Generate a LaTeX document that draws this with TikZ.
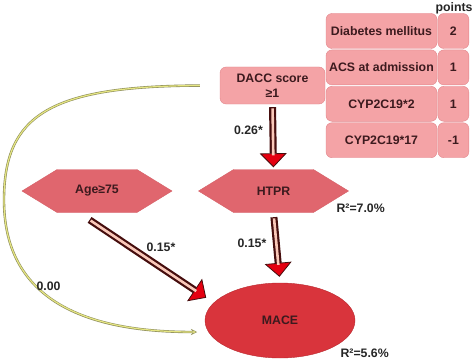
\documentclass[tikz,border=0pt]{standalone}
\usepackage{fontspec}
\setmainfont{Liberation Sans}
\usetikzlibrary{arrows.meta,positioning,shapes.geometric,shapes.symbols}

\definecolor{boxpink}{RGB}{244,163,166}
\definecolor{boxedge}{RGB}{226,134,140}
\definecolor{hexred}{RGB}{224,102,110}
\definecolor{macered}{RGB}{217,52,60}
\definecolor{maceedge}{RGB}{184,40,46}
\definecolor{inktext}{RGB}{60,26,30}
\definecolor{arrowedge}{RGB}{70,14,14}
\definecolor{corepink}{RGB}{250,200,185}
\definecolor{headred}{RGB}{228,0,16}
\definecolor{curveedge}{RGB}{140,140,90}
\definecolor{curvefill}{RGB}{230,230,130}

\tikzset{
  scorebox/.style={rectangle,rounded corners=6pt,draw=boxedge,fill=boxpink,text=inktext,
    minimum height=35pt,inner sep=2pt},
  hexbox/.style={signal,signal to=west and east,signal pointer angle=63,draw=hexred!95!black,
    fill=hexred,text=inktext,minimum width=150pt,minimum height=43pt,inner sep=0pt},
  fatarrow/.style={draw=arrowedge,line width=7pt,
    -{Triangle[length=14pt,width=27pt,line width=0.8pt,fill=headred]}},
  fatcore/.style={draw=corepink,line width=2.6pt},
  direct/.style={draw=curvefill,line width=1.2pt,shorten <=20pt,
    -{Stealth[length=6pt,width=6pt,line width=0.4pt,color=curveedge,fill=curvefill]},
    preaction={draw=curveedge,line width=2.4pt,-,shorten <=20pt,shorten >=5pt}},
  weight/.style={text=black!85}
}

\begin{document}
\begin{tikzpicture}[x=1pt,y=-1pt,font=\bfseries\fontsize{12.3}{15}\selectfont]
  \useasboundingbox (0,0) rectangle (474,361);

  % risk score table
  \node[weight] (pointshead) at (454,8) {points};
  \node[scorebox,minimum width=111pt] (dm) at (381.5,31) {Diabetes mellitus};
  \node[scorebox,minimum width=111pt,below=1pt of dm] (acs) {ACS at admission};
  \node[scorebox,minimum width=111pt,below=1pt of acs] (cyptwo) {CYP2C19*2};
  \node[scorebox,minimum width=111pt,below=1pt of cyptwo] (cypsvt) {CYP2C19*17};
  \node[scorebox,minimum width=31pt,right=0.5pt of dm] (dmpts) {2};
  \node[scorebox,minimum width=31pt,right=0.5pt of acs] (acspts) {1};
  \node[scorebox,minimum width=31pt,right=0.5pt of cyptwo] (cyptwopts) {1};
  \node[scorebox,minimum width=31pt,right=0.5pt of cypsvt] (cypsvtpts) {-1};

  % path model
  \node[scorebox,minimum width=105pt,minimum height=37pt,align=center] (dacc) at (272.5,85.5)
    {DACC score\\≥1};
  \node[hexbox] (age) at (97,191) {Age≥75};
  \node[hexbox] (htpr) at (273.5,191) {HTPR};
  \node[ellipse,draw=maceedge,fill=macered,text=inktext,minimum width=150pt,
    minimum height=75pt] (mace) at (280,320.5) {MACE};

  \node[weight,anchor=west] (rhtpr) at (333,208) {R²=7.0\%};
  \node[weight,anchor=west] (rmace) at (337,353) {R²=5.6\%};

  \foreach \from/\to/\s/\e in {dacc.south/htpr.north/3/2, htpr.south/mace.north/4.5/6,
      age.-130/mace.165/13/9}
  {
    \draw[fatarrow,shorten <=\s pt,shorten >=\e pt] (\from) -- (\to);
    \draw[fatcore,shorten <=\s pt+1.2pt,shorten >=\e pt+12pt] (\from) -- (\to);
  }

  \coordinate (maceleft) at (197,332);
  \draw[direct] (dacc.west) .. controls (50,86) and (4,115) .. (4,200)
    .. controls (4,290) and (70,332) .. (maceleft);

  % path weights
  \node[weight] (wdacc) at (248.5,130) {0.26*};
  \node[weight] (whtpr) at (252,243) {0.15*};
  \node[weight] (wage) at (161,247) {0.15*};
  \node[weight] (wdirect) at (48.5,286) {0.00};
\end{tikzpicture}
\end{document}
